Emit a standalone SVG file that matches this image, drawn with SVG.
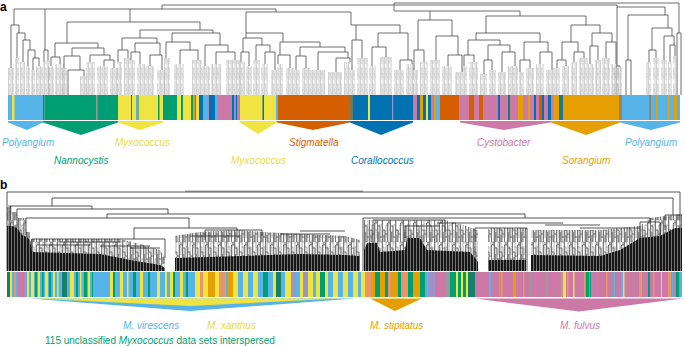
<svg xmlns="http://www.w3.org/2000/svg" width="685" height="346" viewBox="0 0 685 346">
<style>
.lb{fill:#56B4E9}.gr{fill:#009E73}.ye{fill:#F0E442}.or{fill:#D55E00}.bl{fill:#0072B2}.pk{fill:#CC79A7}.so{fill:#E69F00}.gy{fill:#999}.sa{fill:#E8956A}.pu{fill:#9C93C9}.dg{fill:#17806A}.br{fill:#A08060}.gg{fill:#6A7A60}.tb{fill:#1A7A8A}
.treeA{fill:none;stroke:#4a4a4a;stroke-width:0.8}
.treeB{fill:none;stroke:#2a2a2a;stroke-width:0.8}
.comb{fill:url(#combA)}
.lab{font-family:"Liberation Sans",Arial,sans-serif;font-size:10px;font-style:italic}
.tag{font-family:"Liberation Sans",Arial,sans-serif;font-size:12px;font-weight:bold;fill:#000}
.tlb{fill:#56B4E9}.tgr{fill:#009E73}.tye{fill:#E8DC3A}.tor{fill:#D55E00}.tbl{fill:#0072B2}.tpk{fill:#CC79A7}.tso{fill:#E69F00}
</style>
<defs>
<pattern id="combA" width="4" height="16" patternUnits="userSpaceOnUse"><path d="M0.5,0V16M1.8,4V16M3.1,0V16M0.5,4H1.8M1.8,10H3.1M3.1,13H4" stroke="#b2b2b2" stroke-width="0.6" fill="none"/></pattern>
<pattern id="meshB" width="13" height="22" patternUnits="userSpaceOnUse"><path d="M0.5,0V22M3,6V22M5.5,0V22M8,10V22M10.5,3V22M0.5,6H3M5.5,10H8M8,14H10.5M10.5,3H13M3,17H5.5M12,0V3M1.7,12V22M7,15V22" stroke="#1c1c1c" stroke-width="0.6" fill="none"/></pattern>
<pattern id="meshB2" width="7" height="17" patternUnits="userSpaceOnUse"><path d="M1,4V17M4,0V17M1,4H4M6,9V17M4,9H6" stroke="#777" stroke-width="0.6" fill="none"/></pattern>
<pattern id="denseB" width="3" height="6" patternUnits="userSpaceOnUse"><rect width="3" height="6" fill="#161616"/><rect x="2" width="0.8" height="6" fill="#8a8a8a"/></pattern>
</defs>
<rect width="685" height="346" fill="#fff"/>

<text class="tag" x="0" y="11">a</text>
<text class="tag" x="0" y="189">b</text>

<g id="panel-a-leaves">
<rect class="comb" x="8" y="68" width="6" height="27"/><rect class="comb" x="15" y="58" width="4" height="37"/><rect class="comb" x="20" y="62" width="5" height="33"/><rect class="comb" x="26" y="66" width="4" height="29"/><rect class="comb" x="31" y="70" width="4" height="25"/><rect class="comb" x="36" y="66" width="7" height="29"/><rect class="comb" x="43" y="62" width="3" height="33"/><rect class="comb" x="46" y="60" width="4" height="35"/>
<rect class="comb" x="48" y="66" width="6" height="29"/><rect class="comb" x="55" y="64" width="9" height="31"/><rect class="comb" x="62" y="68" width="5" height="27"/><rect class="comb" x="80" y="76" width="7" height="19"/><rect class="comb" x="86" y="62" width="9" height="33"/><rect class="comb" x="97" y="66" width="11" height="29"/><rect class="comb" x="110" y="68" width="8" height="27"/>
<rect class="comb" x="117" y="62" width="5" height="33"/><rect class="comb" x="124" y="58" width="7" height="37"/><rect class="comb" x="131" y="60" width="4" height="35"/><rect class="comb" x="137" y="64" width="9" height="31"/><rect class="comb" x="146" y="66" width="8" height="29"/><rect class="comb" x="157" y="70" width="8" height="25"/>
<rect class="comb" x="164" y="58" width="6" height="37"/><rect class="comb" x="174" y="64" width="10" height="31"/><rect class="comb" x="192" y="60" width="10" height="35"/><rect class="comb" x="202" y="66" width="8" height="29"/><rect class="comb" x="211" y="64" width="10" height="31"/><rect class="comb" x="226" y="60" width="14" height="35"/>
<rect class="comb" x="239" y="62" width="6" height="33"/><rect class="comb" x="246" y="66" width="6" height="29"/><rect class="comb" x="253" y="60" width="7" height="35"/><rect class="comb" x="261" y="64" width="7" height="31"/><rect class="comb" x="271" y="70" width="6" height="25"/>
<rect class="comb" x="277" y="64" width="6" height="31"/><rect class="comb" x="286" y="68" width="8" height="27"/><rect class="comb" x="294" y="70" width="6" height="25"/><rect class="comb" x="302" y="68" width="8" height="27"/><rect class="comb" x="310" y="70" width="15" height="25"/><rect class="comb" x="328" y="72" width="14" height="23"/><rect class="comb" x="344" y="62" width="6" height="33"/>
<rect class="comb" x="350" y="70" width="5" height="25"/><rect class="comb" x="357" y="58" width="11" height="37"/><rect class="comb" x="369" y="66" width="7" height="29"/><rect class="comb" x="380" y="57" width="12" height="38"/><rect class="comb" x="394" y="70" width="10" height="25"/><rect class="comb" x="406" y="64" width="8" height="31"/>
<rect class="comb" x="413" y="70" width="5" height="25"/><rect class="comb" x="420" y="62" width="8" height="33"/><rect class="comb" x="430" y="60" width="10" height="35"/><rect class="comb" x="442" y="66" width="10" height="29"/><rect class="comb" x="455" y="72" width="7" height="23"/>
<rect class="comb" x="462" y="66" width="5" height="29"/><rect class="comb" x="469" y="62" width="9" height="33"/><rect class="comb" x="480" y="74" width="7" height="21"/><rect class="comb" x="489" y="70" width="7" height="25"/><rect class="comb" x="498" y="72" width="8" height="23"/><rect class="comb" x="508" y="66" width="10" height="29"/>
<rect class="comb" x="519" y="72" width="5" height="23"/><rect class="comb" x="526" y="68" width="8" height="27"/><rect class="comb" x="536" y="64" width="8" height="31"/><rect class="comb" x="546" y="70" width="7" height="25"/><rect class="comb" x="553" y="68" width="7" height="27"/><rect class="comb" x="562" y="66" width="7" height="29"/><rect class="comb" x="571" y="62" width="6" height="33"/><rect class="comb" x="579" y="58" width="9" height="37"/><rect class="comb" x="588" y="64" width="6" height="31"/><rect class="comb" x="595" y="60" width="6" height="35"/><rect class="comb" x="602" y="58" width="8" height="37"/><rect class="comb" x="611" y="64" width="8" height="31"/>
<rect class="comb" x="614" y="66" width="8" height="29"/><rect class="comb" x="646" y="62" width="5" height="33"/><rect class="comb" x="653" y="58" width="6" height="37"/><rect class="comb" x="661" y="60" width="6" height="35"/><rect class="comb" x="668" y="62" width="4" height="33"/><rect class="comb" x="673" y="56" width="3" height="39"/>
</g>

<g id="panel-a-tree">
<path class="treeA" d="M162,5H617M394,3H679M394,3V5M679,3V33M677,33H681M677,33V95M681,33V95
M162,5V9M14,9H276
M14,9V25M11,25H19M11,25V68M19,25V33M17,33H25M17,33V58M25,33V40M23,40H30M23,40V62M30,40V50M28,50H35M28,50V66M35,50V58M33,58H39M33,58V70M39,58V66
M45,9V50M44,50H48M44,50V62M48,50V60
M130,9V22M67,22H200
M67,22V43M55,43H98M55,43V57M51,57H60M51,57V66M60,57V64M98,43V48M72,48H104M72,48V56M64,56H80M64,56V68M80,56V70M68,70H84M68,70V95M84,70V76M104,48V55M90,55H110M90,55V62M110,55V60M104,60H114M104,60V66M114,60V68
M200,22V30M140,30H213M140,30V38M122,38H157M122,38V50M118,50H128M118,50V62M128,50V58M157,38V43M135,43H160M135,43V52M131,52H140M131,52V60M140,52V64M160,43V55M150,55H162M150,55V66M162,55V70
M213,30V33M172,33H220M172,33V42M166,42H190M166,42V58M190,42V50M180,50H198M180,50V64M198,50V60M220,33V45M205,45H228M205,45V66M228,45V52M216,52H235M216,52V64M235,52V60
M276,9V12M246,12H351M246,12V38M246,33H283M243,38H262M243,38V52M241,52H249M241,52V62M249,52V66M262,38V45M256,45H270M256,45V60M270,45V52M265,52H275M265,52V64M275,52V70
M283,33V42M280,42H320M280,42V55M278,55H290M278,55V64M290,55V68M320,42V47M300,47H345M300,47V56M296,56H306M296,56V70M306,56V68M345,47V52M318,52H348M318,52V70M348,52V58M336,58H350M336,58V72M350,58V62
M351,12V25M351,25H400M356,25V40M352,40H362M352,40V70M362,40V58M400,25V33M378,33H408M378,33V47M372,47H386M372,47V66M386,47V57M408,33V60M400,60H412M400,60V70M412,60V64
M394,5V11M394,11H520M430,11V20M418,20H452M418,20V50M414,50H424M414,50V70M424,50V62M452,20V36M436,36H458M436,36V60M458,36V55M448,55H462M448,55V66M462,55V72
M520,11V16M486,16H586M486,16V33M476,33H540M476,33V40M468,40H500M468,40V55M464,55H474M464,55V66M474,55V62M500,40V45M488,45H510M488,45V60M484,60H492M484,60V74M492,60V70M510,45V52M502,52H515M502,52V72M515,52V66M540,33V42M524,42H548M524,42V60M520,60H530M520,60V72M530,60V68M548,42V52M540,52H552M540,52V64M552,52V70
M586,16V25M571,25H600M571,25V42M562,42H578M562,42V60M557,60H566M557,60V68M566,60V66M578,42V52M574,52H584M574,52V62M584,52V58M600,25V33M592,33H612M592,33V46M590,46H598M590,46V64M598,46V60M612,33V42M606,42H616M606,42V58M616,42V64
M617,5V7M617,7H665M617,7V66M616,66H620M665,7V15M628,15H668M628,15V60M626,60H631M626,60V95M631,60V95M668,15V28M652,28H672M652,28V50M649,50H656M649,50V62M656,50V58M672,28V36M664,36H674M664,36V60M674,36V45M670,45H675M670,45V62M675,45V56"/>
</g>

<g id="panel-a-bar" transform="translate(0,95)">
<rect x="8" width="35" height="25" class="lb"/><rect x="12" width="2.5" height="25" class="ye"/><rect x="43" width="1.5" height="25" class="dg"/>
<rect x="44.5" width="73.5" height="25" class="gr"/><rect x="96" width="1.5" height="25" class="gy"/>
<rect x="118" width="45" height="25" class="ye"/><rect x="131" width="1" height="25" class="dg"/><rect x="136" width="1.2" height="25" class="lb"/><rect x="137.5" width="1" height="25" class="dg"/><rect x="158" width="1.5" height="25" class="gr"/>
<rect x="163" width="14" height="25" class="gr"/><rect x="177" width="4" height="25" class="ye"/><rect x="181" width="2" height="25" class="gr"/><rect x="183" width="8" height="25" class="ye"/><rect x="191" width="2" height="25" class="gr"/><rect x="193" width="2" height="25" class="so"/><rect x="195" width="1.5" height="25" class="or"/><rect x="196.5" width="2.5" height="25" class="ye"/>
<rect x="199" width="4" height="25" class="bl"/><rect x="203" width="4" height="25" class="lb"/><rect x="207" width="2" height="25" class="pu"/><rect x="209" width="6" height="25" class="bl"/><rect x="215" width="3" height="25" class="lb"/><rect x="218" width="14" height="25" class="pk"/><rect x="232" width="2" height="25" class="bl"/><rect x="234" width="1.5" height="25" class="pu"/><rect x="235.5" width="1.5" height="25" class="bl"/><rect x="237" width="3" height="25" class="pk"/>
<rect x="240" width="37" height="25" class="ye"/><rect x="262.5" width="1.5" height="25" class="bl"/><rect x="276" width="2" height="25" class="lb"/>
<rect x="278" width="72" height="25" class="or"/><rect x="350" width="3" height="25" class="gg"/>
<rect x="353" width="60" height="25" class="bl"/><rect x="368" width="2" height="25" class="ye"/><rect x="392" width="1.2" height="25" class="pu"/>
<rect x="413" width="4" height="25" class="pk"/><rect x="417" width="3" height="25" class="bl"/><rect x="420" width="3" height="25" class="so"/><rect x="423" width="3" height="25" class="bl"/><rect x="426" width="2" height="25" class="ye"/><rect x="428" width="3" height="25" class="bl"/><rect x="431" width="3" height="25" class="pk"/><rect x="434" width="2" height="25" class="so"/><rect x="436" width="4" height="25" class="lb"/>
<rect x="440" width="19" height="25" class="or"/><rect x="459" width="10" height="25" class="pk"/><rect x="469" width="5" height="25" class="or"/><rect x="474" width="5" height="25" class="pk"/><rect x="479" width="4" height="25" class="or"/><rect x="483" width="15" height="25" class="pk"/><rect x="498" width="2" height="25" class="bl"/><rect x="500" width="8" height="25" class="pk"/><rect x="508" width="2" height="25" class="dg"/><rect x="510" width="8" height="25" class="pk"/><rect x="518" width="5" height="25" class="so"/><rect x="523" width="5" height="25" class="pk"/><rect x="528" width="2" height="25" class="so"/><rect x="530" width="4" height="25" class="pk"/><rect x="534" width="2" height="25" class="bl"/><rect x="536" width="3" height="25" class="pk"/><rect x="539" width="3" height="25" class="or"/><rect x="542" width="2" height="25" class="bl"/><rect x="544" width="4" height="25" class="pk"/><rect x="548" width="3" height="25" class="bl"/><rect x="551" width="2" height="25" class="pk"/>
<rect x="553" width="6" height="25" class="so"/><rect x="559" width="4" height="25" class="tb"/><rect x="563" width="56" height="25" class="so"/><rect x="619" width="3" height="25" class="br"/>
<rect x="622" width="58" height="25" class="lb"/><rect x="649" width="2" height="25" class="br"/><rect x="656" width="2" height="25" class="so"/><rect x="667" width="3" height="25" class="so"/><rect x="674" width="3" height="25" class="so"/>
</g>

<g id="clade-polyangium-left"><polygon class="lb" points="8,121 43,121 43,122.5 27,130 8,122.5"/><text class="lab tlb" x="2" y="146">Polyangium</text></g>
<g id="clade-nannocystis"><polygon class="gr" points="43,121 118,121 118,122.5 81,135 43,122.5"/><text class="lab tgr" x="54" y="164">Nannocystis</text></g>
<g id="clade-myxococcus-1"><polygon class="ye" points="118,121 163,121 163,122.5 140,130 118,122.5"/><text class="lab tye" x="115" y="146">Myxococcus</text></g>
<g id="clade-myxococcus-2"><polygon class="ye" points="240,121 277,121 277,122.5 258,134 240,122.5"/><text class="lab tye" x="231" y="164">Myxococcus</text></g>
<g id="clade-stigmatella"><polygon class="or" points="277,121 350,121 350,122.5 313,130 277,122.5"/><text class="lab tor" x="289" y="146">Stigmatella</text></g>
<g id="clade-corallococcus"><polygon class="bl" points="350,121 413,121 413,122.5 381,135 350,122.5"/><text class="lab tbl" x="351" y="164">Corallococcus</text></g>
<g id="clade-cystobacter"><polygon class="pk" points="460,121 551,121 551,122.5 504,130 460,122.5"/><text class="lab tpk" x="477" y="146">Cystobacter</text></g>
<g id="clade-sorangium"><polygon class="so" points="551,121 620,121 620,122.5 586,135 551,122.5"/><text class="lab tso" x="562" y="164">Sorangium</text></g>
<g id="clade-polyangium-right"><polygon class="lb" points="620,121 680,121 680,122.5 651,130 620,122.5"/><text class="lab tlb" x="625" y="146">Polyangium</text></g>

<g id="panel-b-leaves">
<path fill="url(#meshB)" d="M7,271V206H12V212H17V218H26V232H30V239H120L140,244L160,250L165,258V271ZM175,271V236L200,232L237,230L262,232L300,234L345,236L360,240V271ZM364,271V220L445,220L460,224L478,230V271ZM488,271V228H526V271ZM531,271V230L600,230L640,226L650,218L682,214V271Z"/>
<path fill="url(#meshB2)" d="M7,271V206H12V212H17V218H26V232H30V239H120L140,244L160,250L165,258V271ZM175,271V236L200,232L237,230L262,232L300,234L345,236L360,240V271ZM364,271V220L445,220L460,224L478,230V271ZM488,271V228H526V271ZM531,271V230L600,230L640,226L650,218L682,214V271Z"/>
<path fill="url(#denseB)" d="M7,271V226H12L17,228L22,235L27,237L30,240L32,252L100,254L130,260L160,265L165,268V271ZM175,271V258L240,256L300,254L345,255L360,256V271ZM364,271V250L367,243L377,243L380,252L405,250L407,238L420,238L427,250L470,252L478,262V271ZM488,271V260H526V271ZM531,271V255L600,256L620,250L640,238L660,236L675,228L682,228V271Z"/>
<path d="M9,205V226M13,212V226M20,218V230M24,220V236" stroke="#999" stroke-width="1.2"/>
</g>

<g id="panel-b-tree">
<path class="treeB" d="M7,192H680M7,192V271M52,198H673M52,198V206M10,206H92M10,206V226M92,206V209M17,209H168M17,209V228M168,209V214M107,214H525M107,214V218M26,218H189M26,218V235M189,218V228M134,228H237M134,228V239M32,239H165M32,239V252M165,239V258M237,228V230M205,230H262M205,230V240M262,230V236M525,214V218M363,218H650M363,218V271M650,218V222M640,222H660M640,222V238M660,222V236M680,192V212M673,198V215M665,215H680M665,215V230M680,212V228
M373,220H445M373,220V243M445,220V232M437,223H563M475,228H527M475,228V262M527,228V271M405,226H440M405,226V238M545,225H600M580,228H640M300,231H345M280,234H330M190,236H240M60,242H120M40,245H90M100,246H150M130,248H160"/>
<path d="M185,191.2H363" stroke="#555" stroke-width="0.8"/>
</g>

<g id="panel-b-bar" transform="translate(0,272)">
<rect x="7" width="358" height="25" class="lb"/>
<rect x="7" width="3" height="25" class="dg"/><rect x="10" width="2" height="25" class="ye"/><rect x="14" width="2" height="25" class="sa"/><rect x="18" width="7" height="25" class="pk"/><rect x="27" width="2" height="25" class="ye"/><rect x="29" width="1" height="25" class="gy"/><rect x="31" width="3" height="25" class="ye"/><rect x="35" width="2" height="25" class="gr"/><rect x="38" width="2" height="25" class="ye"/><rect x="42" width="1.5" height="25" class="gr"/><rect x="45" width="3" height="25" class="ye"/><rect x="49" width="2" height="25" class="gr"/><rect x="53" width="2" height="25" class="ye"/><rect x="57" width="1.5" height="25" class="ye"/><rect x="62" width="5" height="25" class="dg"/><rect x="70" width="4" height="25" class="ye"/><rect x="76" width="2" height="25" class="gr"/><rect x="80" width="1.5" height="25" class="ye"/><rect x="84" width="3" height="25" class="gr"/><rect x="88" width="2" height="25" class="ye"/><rect x="92" width="1" height="25" class="gr"/>
<rect x="110" width="3" height="25" class="ye"/><rect x="113" width="2" height="25" class="gr"/><rect x="120" width="3" height="25" class="ye"/><rect x="127" width="1.5" height="25" class="ye"/><rect x="133" width="3" height="25" class="gr"/><rect x="140" width="3" height="25" class="ye"/><rect x="148" width="2" height="25" class="gr"/><rect x="157" width="3" height="25" class="ye"/><rect x="165" width="2" height="25" class="ye"/><rect x="170" width="3" height="25" class="ye"/><rect x="173" width="2" height="25" class="gr"/><rect x="180" width="3" height="25" class="ye"/><rect x="186" width="2" height="25" class="gr"/>
<rect x="195" width="5" height="25" class="ye"/><rect x="200" width="3" height="25" class="sa"/><rect x="203" width="5" height="25" class="ye"/><rect x="208" width="7" height="25" class="so"/><rect x="215" width="4" height="25" class="ye"/><rect x="219" width="3" height="25" class="sa"/><rect x="222" width="4" height="25" class="sa"/><rect x="228" width="5" height="25" class="so"/><rect x="233" width="5" height="25" class="ye"/><rect x="243" width="5" height="25" class="ye"/><rect x="253" width="5" height="25" class="ye"/><rect x="263" width="5" height="25" class="gr"/><rect x="273" width="3" height="25" class="ye"/><rect x="276" width="5" height="25" class="dg"/><rect x="285" width="6" height="25" class="ye"/><rect x="291" width="5" height="25" class="pu"/><rect x="300" width="3" height="25" class="ye"/><rect x="303" width="5" height="25" class="pu"/><rect x="308" width="5" height="25" class="ye"/><rect x="316" width="4" height="25" class="ye"/><rect x="320" width="5" height="25" class="gr"/><rect x="325" width="3" height="25" class="ye"/><rect x="333" width="5" height="25" class="ye"/><rect x="343" width="5" height="25" class="ye"/><rect x="353" width="5" height="25" class="ye"/><rect x="361" width="4" height="25" class="ye"/>
<rect x="365" width="6" height="25" class="sa"/><rect x="371" width="4" height="25" class="so"/><rect x="375" width="5" height="25" class="gr"/><rect x="380" width="5" height="25" class="so"/><rect x="385" width="3" height="25" class="gr"/><rect x="388" width="3" height="25" class="sa"/><rect x="391" width="7" height="25" class="so"/><rect x="398" width="3" height="25" class="gr"/><rect x="401" width="7" height="25" class="sa"/><rect x="408" width="5" height="25" class="gr"/><rect x="413" width="7" height="25" class="so"/><rect x="420" width="5" height="25" class="gr"/><rect x="425" width="3" height="25" class="lb"/><rect x="428" width="7" height="25" class="pu"/><rect x="435" width="10" height="25" class="pk"/><rect x="445" width="5" height="25" class="gy"/><rect x="450" width="6" height="25" class="gr"/><rect x="456" width="2" height="25" class="ye"/><rect x="458" width="3" height="25" class="gr"/><rect x="461" width="2" height="25" class="ye"/><rect x="463" width="3" height="25" class="gr"/><rect x="466" width="2" height="25" class="ye"/><rect x="468" width="7" height="25" class="dg"/>
<rect x="475" width="207" height="25" class="pk"/>
<rect x="489" width="2" height="25" class="lb"/><rect x="499" width="1.5" height="25" class="so"/><rect x="501" width="1.5" height="25" class="sa"/><rect x="513" width="3" height="25" class="so"/><rect x="523" width="1.5" height="25" class="sa"/><rect x="530" width="1" height="25" class="gy"/><rect x="546" width="2" height="25" class="gy"/><rect x="559" width="1.5" height="25" class="gy"/><rect x="561" width="1.5" height="25" class="sa"/><rect x="563" width="3" height="25" class="ye"/><rect x="567" width="1.5" height="25" class="sa"/><rect x="573" width="1.5" height="25" class="ye"/><rect x="584" width="1.5" height="25" class="sa"/><rect x="586" width="3" height="25" class="gr"/><rect x="590" width="1" height="25" class="gr"/><rect x="597" width="1" height="25" class="gy"/><rect x="606" width="1.5" height="25" class="sa"/><rect x="612" width="1.5" height="25" class="gy"/><rect x="614" width="1" height="25" class="lb"/><rect x="621" width="2" height="25" class="lb"/><rect x="623" width="1.5" height="25" class="ye"/><rect x="633" width="1.5" height="25" class="gy"/><rect x="639" width="3" height="25" class="sa"/><rect x="648" width="2" height="25" class="gr"/><rect x="653" width="1.5" height="25" class="sa"/><rect x="661" width="1" height="25" class="ye"/><rect x="668" width="3" height="25" class="sa"/><rect x="672" width="1" height="25" class="lb"/><rect x="676" width="3" height="25" class="gr"/><rect x="680" width="2" height="25" class="lb"/>
</g>

<g id="clade-virescens-xanthus">
<polygon class="lb" points="30,298.5 355,298.5 190,311"/>
<polygon class="ye" points="34,298.5 340,298.5 190,306"/>
<text class="lab tlb" x="123" y="329">M. virescens</text>
<text class="lab tye" x="207" y="329">M. xanthus</text>
<text class="lab tgr" x="45" y="344" style="font-style:normal">115 unclassified <tspan style="font-style:italic">Myxococcus</tspan> data sets interspersed</text>
</g>
<g id="clade-stipitatus"><polygon class="so" points="370,298.5 422,298.5 395,311"/><text class="lab tso" x="370" y="329">M. stipitatus</text></g>
<g id="clade-fulvus"><polygon class="pk" points="475,298.5 683,298.5 579,311.5"/><text class="lab tpk" x="560" y="329">M. fulvus</text></g>
</svg>
